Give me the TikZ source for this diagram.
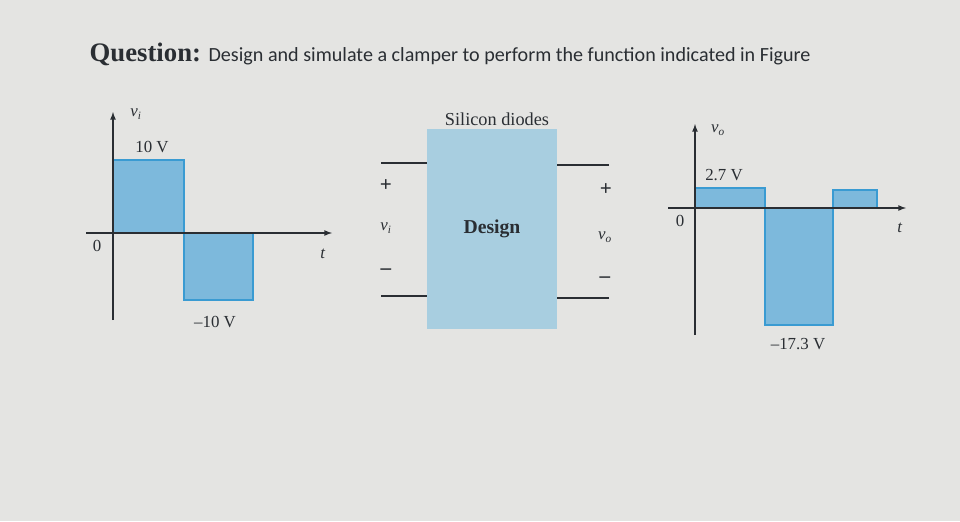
\documentclass[tikz,border=0pt]{standalone}
\usepackage{fontspec}
\setmainfont{Liberation Serif}
\newfontfamily\titlefont{Carlito}
\usetikzlibrary{positioning}
\definecolor{bgray}{HTML}{E4E4E2}
\definecolor{wave}{HTML}{7DB9DC}
\definecolor{waveedge}{HTML}{3A9BD2}
\definecolor{boxblue}{HTML}{A8CEE0}
\definecolor{ink}{HTML}{2A2E33}

\begin{document}
\begin{tikzpicture}[x=0.025cm, y=-0.025cm,
  every node/.style={inner sep=1pt, text=ink, font=\fontsize{12}{14}\selectfont},
  axis/.style={line width=0.9pt, draw=ink, -latex},
  pulse/.style={fill=wave, draw=waveedge, line width=1.3pt},
  lead/.style={line width=0.9pt, draw=ink},
  sign/.style={font=\fontsize{15}{17}\selectfont\bfseries}]

  \fill[bgray] (0,0) rectangle (960,521);
  \useasboundingbox (0,0) rectangle (960,521);

  % heading
  \node (q) [anchor=base west] at (88,61) {\fontsize{19}{22}\selectfont\bfseries Question:};
  \node (qtext) [anchor=base west, font=\titlefont\fontsize{14.3}{16}\selectfont] at ([xshift=3pt]q.base east)
    {Design and simulate a clamper to perform the function indicated in Figure};

  % input waveform
  \draw[pulse] (113,233) rectangle (184,160);
  \draw[pulse] (184,233) rectangle (253,300);
  \draw[axis] (113,320) -- (113,112);
  \draw[axis] (86,233) -- (332,233);
  \node (vi) at (136,114) {\textit{v\textsubscript{i}}};
  \node (tp) at (152,147) {10 V};
  \node (tn) at (215,322) {–10 V};
  \node (z1) at (97,246) {0};
  \node (t1) at (323,254) {\textit{t}};

  % clamper block
  \node (dsn) [fill=boxblue, minimum width=3.25cm, minimum height=5cm,
    font=\fontsize{14}{16}\selectfont\bfseries] at (492,229) {Design};
  \node (sil) at (497,119) {\fontsize{13}{15}\selectfont Silicon diodes};
  \coordinate (ia) at (381,163);
  \coordinate (ib) at (381,296);
  \coordinate (oa) at (609,165);
  \coordinate (ob) at (609,298);
  \draw[lead] (ia) -- (ia -| dsn.west);
  \draw[lead] (ib) -- (ib -| dsn.west);
  \draw[lead] (oa) -- (oa -| dsn.east);
  \draw[lead] (ob) -- (ob -| dsn.east);
  \node (ip) [sign] at (386,186) {+};
  \node (iv) at (386,228) {\textit{v\textsubscript{i}}};
  \node (im) [sign] at (386,272) {–};
  \node (op) [sign] at (606,190) {+};
  \node (ov) at (605,237) {\textit{v\textsubscript{o}}};
  \node (om) [sign] at (605,280) {–};

  % output waveform
  \draw[pulse] (695,208) rectangle (765,188);
  \draw[pulse] (765,208) rectangle (833,325);
  \draw[pulse] (833,208) rectangle (877,190);
  \draw[axis] (695,335) -- (695,124);
  \draw[axis] (668,208) -- (906,208);
  \node (vo) at (718,130) {\textit{v\textsubscript{o}}};
  \node (op2) at (724,175) {2.7 V};
  \node (on2) at (798,344) {–17.3 V};
  \node (z2) at (680,221) {0};
  \node (t2) at (900,228) {\textit{t}};

\end{tikzpicture}
\end{document}
